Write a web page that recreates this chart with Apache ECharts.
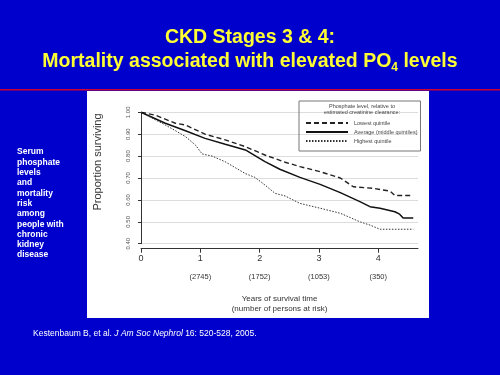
<!DOCTYPE html>
<html>
<head>
<meta charset="utf-8">
<script src="https://cdn.jsdelivr.net/npm/echarts@6/dist/echarts.min.js"></script>
<style>
html, body { margin: 0; padding: 0; background: #0000CC; }
#chart { width: 500px; height: 375px; }
</style>
</head>
<body>
<div id="chart"></div>
<script>
// survival curves (years, proportion surviving)
var lowestYears = [0, 0.24, 0.58, 0.75, 1.08, 1.42, 1.76, 2.09, 2.43, 2.68, 3.02, 3.36, 3.58, 3.91, 4.2, 4.28, 4.59];
var lowestSurv  = [1.0, 0.987, 0.95, 0.942, 0.90, 0.874, 0.843, 0.805, 0.772, 0.752, 0.729, 0.70, 0.66, 0.653, 0.64, 0.62, 0.62];

var avgYears = [0, 0.41, 0.75, 1.08, 1.42, 1.76, 2.09, 2.34, 2.68, 3.02, 3.36, 3.69, 3.86, 4.03, 4.28, 4.36, 4.42, 4.59];
var avgSurv  = [1.0, 0.95, 0.916, 0.881, 0.854, 0.828, 0.775, 0.74, 0.703, 0.671, 0.633, 0.592, 0.569, 0.562, 0.546, 0.535, 0.517, 0.517];

var highYears = [0, 0.41, 0.58, 0.75, 0.92, 1.03, 1.2, 1.42, 1.76, 1.92, 2.09, 2.26, 2.43, 2.68, 3.02, 3.36, 3.69, 3.86, 4.03, 4.59];
var highSurv  = [1.0, 0.942, 0.916, 0.889, 0.85, 0.81, 0.80, 0.774, 0.72, 0.703, 0.668, 0.63, 0.618, 0.584, 0.562, 0.539, 0.50, 0.485, 0.466, 0.466];

var seriesNames = ['Lowest quintile', 'Average (middle quintiles)', 'Highest quintile'];
var atRisk = ['', '(2745)', '(1752)', '(1053)', '(350)'];

function pairs(xs, ys) {
    var out = [];
    for (var i = 0; i < xs.length; i++) {
        out.push([xs[i], ys[i]]);
    }
    return out;
}

var myChart = echarts.init(document.getElementById('chart'));
myChart.setOption({
    backgroundColor: '#0000CC',
    animation: false,
    textStyle: { fontFamily: 'Liberation Sans, Arial, sans-serif' },
    graphic: [
        { type: 'rect', shape: { x: 0, y: 89, width: 500, height: 1.5 }, style: { fill: '#CC0033' }, z: -2 },
        { type: 'rect', shape: { x: 87, y: 91, width: 342, height: 227 }, style: { fill: '#ffffff' }, z: -1 },
        {
            type: 'text', x: 98, y: 162, rotation: Math.PI / 2,
            style: { text: 'Proportion surviving', fill: '#333', fontSize: 11, align: 'center', verticalAlign: 'middle',
                     fontFamily: 'Liberation Sans, Arial, sans-serif' }
        }
    ],
    title: [
        {
            text: 'CKD Stages 3 & 4:\nMortality associated with elevated PO{s|4} levels',
            left: 'center', top: 21,
            textStyle: {
                color: '#FFFF33', fontSize: 19.5, fontWeight: 'bold', lineHeight: 24, align: 'center',
                rich: { s: { color: '#FFFF33', fontSize: 12, fontWeight: 'bold', verticalAlign: 'bottom', padding: [9, 0, 0, 0] } }
            }
        },
        {
            text: 'Serum\nphosphate\nlevels\nand\nmortality\nrisk\namong\npeople with\nchronic\nkidney\ndisease',
            left: 12, top: 142,
            textStyle: { color: '#ffffff', fontSize: 8.5, fontWeight: 'bold', lineHeight: 10.3 }
        },
        {
            text: 'Kestenbaum B, et al. {i|J Am Soc Nephrol} 16: 520-528, 2005.',
            left: 28, top: 324,
            textStyle: {
                color: '#ffffff', fontSize: 8.5, fontWeight: 'normal',
                rich: { i: { color: '#ffffff', fontSize: 8.5, fontStyle: 'italic' } }
            }
        },
        {
            text: 'Phosphate level, relative to\nestimated creatinine clearance:',
            left: 357, top: 98, textAlign: 'center',
            textStyle: { color: '#444', fontSize: 5.5, fontWeight: 'normal', lineHeight: 6.5, align: 'center' }
        }
    ],
    legend: {
        data: seriesNames,
        orient: 'vertical',
        left: 299, top: 101,
        padding: [19, 3, 7, 6],
        itemGap: 3,
        itemWidth: 42,
        itemHeight: 6,
        borderColor: '#777',
        borderWidth: 1,
        itemStyle: { opacity: 0 },
        textStyle: { fontSize: 5.5, color: '#444', padding: [0, 0, 0, 1] }
    },
    grid: {
        left: 141, right: 82, top: 112.3, bottom: 131.3
    },
    xAxis: {
        type: 'value',
        min: 0, max: 4.67, interval: 1,
        offset: 5,
        name: 'Years of survival time\n(number of persons at risk)',
        nameLocation: 'middle',
        nameGap: 45,
        nameTextStyle: { color: '#333', fontSize: 8, lineHeight: 10 },
        axisLine: { show: true, lineStyle: { color: '#333', width: 1 } },
        axisTick: { show: true, length: 4, lineStyle: { color: '#333' } },
        splitLine: { show: false },
        axisLabel: {
            margin: 4,
            color: '#333',
            showMaxLabel: false,
            formatter: function (v) {
                var s = atRisk[v] ? atRisk[v] : '';
                return '{a|' + v + '}\n{b|' + s + '}';
            },
            rich: {
                a: { fontSize: 9, color: '#333', lineHeight: 11 },
                b: { fontSize: 7.5, color: '#333', lineHeight: 26 }
            }
        }
    },
    yAxis: {
        type: 'value',
        min: 0.4, max: 1.0, interval: 0.1,
        offset: 6,
        axisLine: { show: true, lineStyle: { color: '#333', width: 1 } },
        axisTick: { show: true, length: 3, lineStyle: { color: '#333' } },
        splitLine: { show: true, lineStyle: { color: '#dddddd', width: 1 } },
        axisLabel: {
            rotate: 90, margin: 4, fontSize: 6, color: '#555',
            formatter: function (v) { return v.toFixed(2); }
        }
    },
    series: [
        {
            name: seriesNames[0], type: 'line', symbol: 'none',
            data: pairs(lowestYears, lowestSurv),
            lineStyle: { color: '#222', width: 1.4, type: [5, 3] },
            itemStyle: { color: '#222' }
        },
        {
            name: seriesNames[1], type: 'line', symbol: 'none',
            data: pairs(avgYears, avgSurv),
            lineStyle: { color: '#111', width: 1.5, type: 'solid' },
            itemStyle: { color: '#111' }
        },
        {
            name: seriesNames[2], type: 'line', symbol: 'none',
            data: pairs(highYears, highSurv),
            lineStyle: { color: '#333', width: 1, type: [1.5, 1.5] },
            itemStyle: { color: '#333' }
        }
    ]
});
</script>
</body>
</html>
